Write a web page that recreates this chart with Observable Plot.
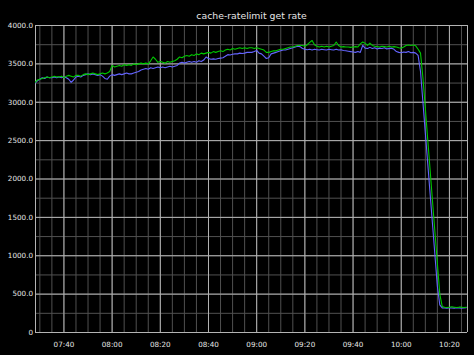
<!DOCTYPE html>
<html><head><meta charset="utf-8">
<script src="https://cdn.jsdelivr.net/npm/d3@7"></script>
<script src="https://cdn.jsdelivr.net/npm/@observablehq/plot@0.6"></script>
<style>
html,body{margin:0;padding:0;background:#000;}
#chart svg{display:block;}
</style></head><body><div id="chart"></div>
<script>
const chartTitle = "cache-ratelimit get rate";
const startTime = "2020-01-01T07:28:00Z"; // first sample, one per minute
const seriesNames = ["series 1", "series 2"];
const seriesColors = ["#6464ff", "#00c800"];
const blueValues = [
3250,3280,3300,3320,3310,3330,3320,3320,3330,3320,
3330,3320,3330,3320,3300,3260,3290,3330,3340,3330,
3350,3360,3370,3360,3370,3360,3350,3360,3340,3310,
3300,3340,3360,3350,3360,3370,3360,3370,3380,3370,
3370,3380,3390,3400,3420,3430,3440,3430,3450,3440,
3450,3460,3450,3460,3450,3460,3470,3460,3470,3480,
3510,3520,3510,3520,3530,3520,3530,3520,3540,3530,
3550,3590,3570,3560,3565,3560,3570,3575,3580,3600,
3620,3615,3625,3630,3630,3640,3635,3640,3650,3650,
3650,3660,3675,3640,3630,3600,3570,3580,3630,3640,
3650,3660,3670,3680,3680,3690,3700,3710,3720,3730,
3725,3700,3690,3685,3690,3680,3690,3685,3680,3690,
3685,3680,3690,3685,3680,3690,3680,3685,3675,3670,
3665,3660,3655,3650,3660,3650,3740,3705,3700,3715,
3700,3710,3695,3705,3700,3710,3695,3700,3705,3690,
3660,3650,3645,3655,3650,3660,3645,3650,3640,3610,
3400,3000,2600,2200,1800,1400,1000,600,360,320,
320,318,322,320,318,322,320,318,320,322
];
const greenValues = [
3260,3290,3300,3310,3320,3330,3320,3330,3340,3330,
3330,3340,3320,3340,3350,3340,3330,3350,3350,3340,
3360,3370,3360,3370,3380,3370,3360,3370,3380,3370,
3380,3400,3480,3460,3470,3480,3470,3490,3480,3490,
3480,3500,3490,3500,3510,3500,3510,3500,3540,3590,
3560,3520,3530,3520,3510,3530,3520,3530,3540,3560,
3590,3580,3600,3610,3600,3620,3610,3630,3620,3640,
3630,3640,3650,3640,3660,3650,3660,3670,3660,3680,
3690,3680,3700,3690,3700,3710,3700,3710,3700,3710,
3710,3700,3710,3700,3690,3680,3650,3650,3660,3670,
3670,3680,3690,3690,3700,3710,3720,3720,3730,3740,
3740,3740,3730,3750,3780,3805,3750,3730,3720,3730,
3720,3730,3720,3730,3740,3785,3740,3720,3725,3720,
3720,3715,3720,3725,3720,3760,3785,3770,3740,3770,
3740,3730,3725,3720,3730,3725,3720,3730,3720,3725,
3720,3710,3705,3720,3740,3745,3740,3745,3735,3690,
3640,3320,2920,2510,2110,1700,1300,900,500,340,
330,325,330,335,330,325,330,330,325,330
];
const yTicks = [0, 500, 1000, 1500, 2000, 2500, 3000, 3500, 4000];
const xTickLabels = ["07:40", "08:00", "08:20", "08:40", "09:00", "09:20", "09:40", "10:00", "10:20"];
const xDomainLabels = ["07:28:12", "10:27:30"];

const day = "2020-01-01T";
const toDate = s => new Date(day + (s.length === 5 ? s + ":00" : s) + "Z");
const t0 = new Date(startTime).getTime();
const rows = [];
[blueValues, greenValues].forEach((vals, si) => {
  vals.forEach((v, i) => rows.push({series: seriesNames[si], t: new Date(t0 + i * 60000), v}));
});
const xDomain = xDomainLabels.map(toDate);
const xTicks = xTickLabels.map(toDate);
const minorX = d3.utcMinute.every(5).range(xDomain[0], xDomain[1]);
const minorY = d3.range(0, 4001, 250);

const plot = Plot.plot({
  width: 474,
  height: 355,
  marginTop: 25,
  marginBottom: 23,
  marginLeft: 35,
  marginRight: 7,
  style: {background: "#000", color: "#e6e6e6", fontFamily: "DejaVu Sans", fontSize: "7.2px"},
  x: {type: "utc", domain: xDomain, ticks: xTicks, tickFormat: d3.utcFormat("%H:%M"), tickSize: 0, tickPadding: 9, label: null},
  y: {domain: [0, 4000], ticks: yTicks, tickFormat: d => d === 0 ? "0" : d.toFixed(1), tickSize: 0, tickPadding: 2.5, label: null},
  color: {type: "ordinal", domain: seriesNames, range: seriesColors},
  marks: [
    Plot.ruleY(minorY, {stroke: "#505050", strokeWidth: 1}),
    Plot.ruleX(minorX, {stroke: "#505050", strokeWidth: 1}),
    Plot.ruleY(yTicks, {stroke: "#b4b4b4", strokeWidth: 1}),
    Plot.ruleX(xTicks, {stroke: "#b4b4b4", strokeWidth: 1}),
    Plot.ruleX(xDomain, {stroke: "#b4b4b4", strokeWidth: 1}),
    Plot.line(rows, {x: "t", y: "v", z: "series", stroke: "series", strokeWidth: 1.1, clip: true}),
    Plot.text([chartTitle], {frameAnchor: "top", dy: -13, fill: "#e6e6e6", fontSize: 9.3, fontFamily: "DejaVu Sans"})
  ]
});
document.getElementById("chart").appendChild(plot);
</script></body></html>
